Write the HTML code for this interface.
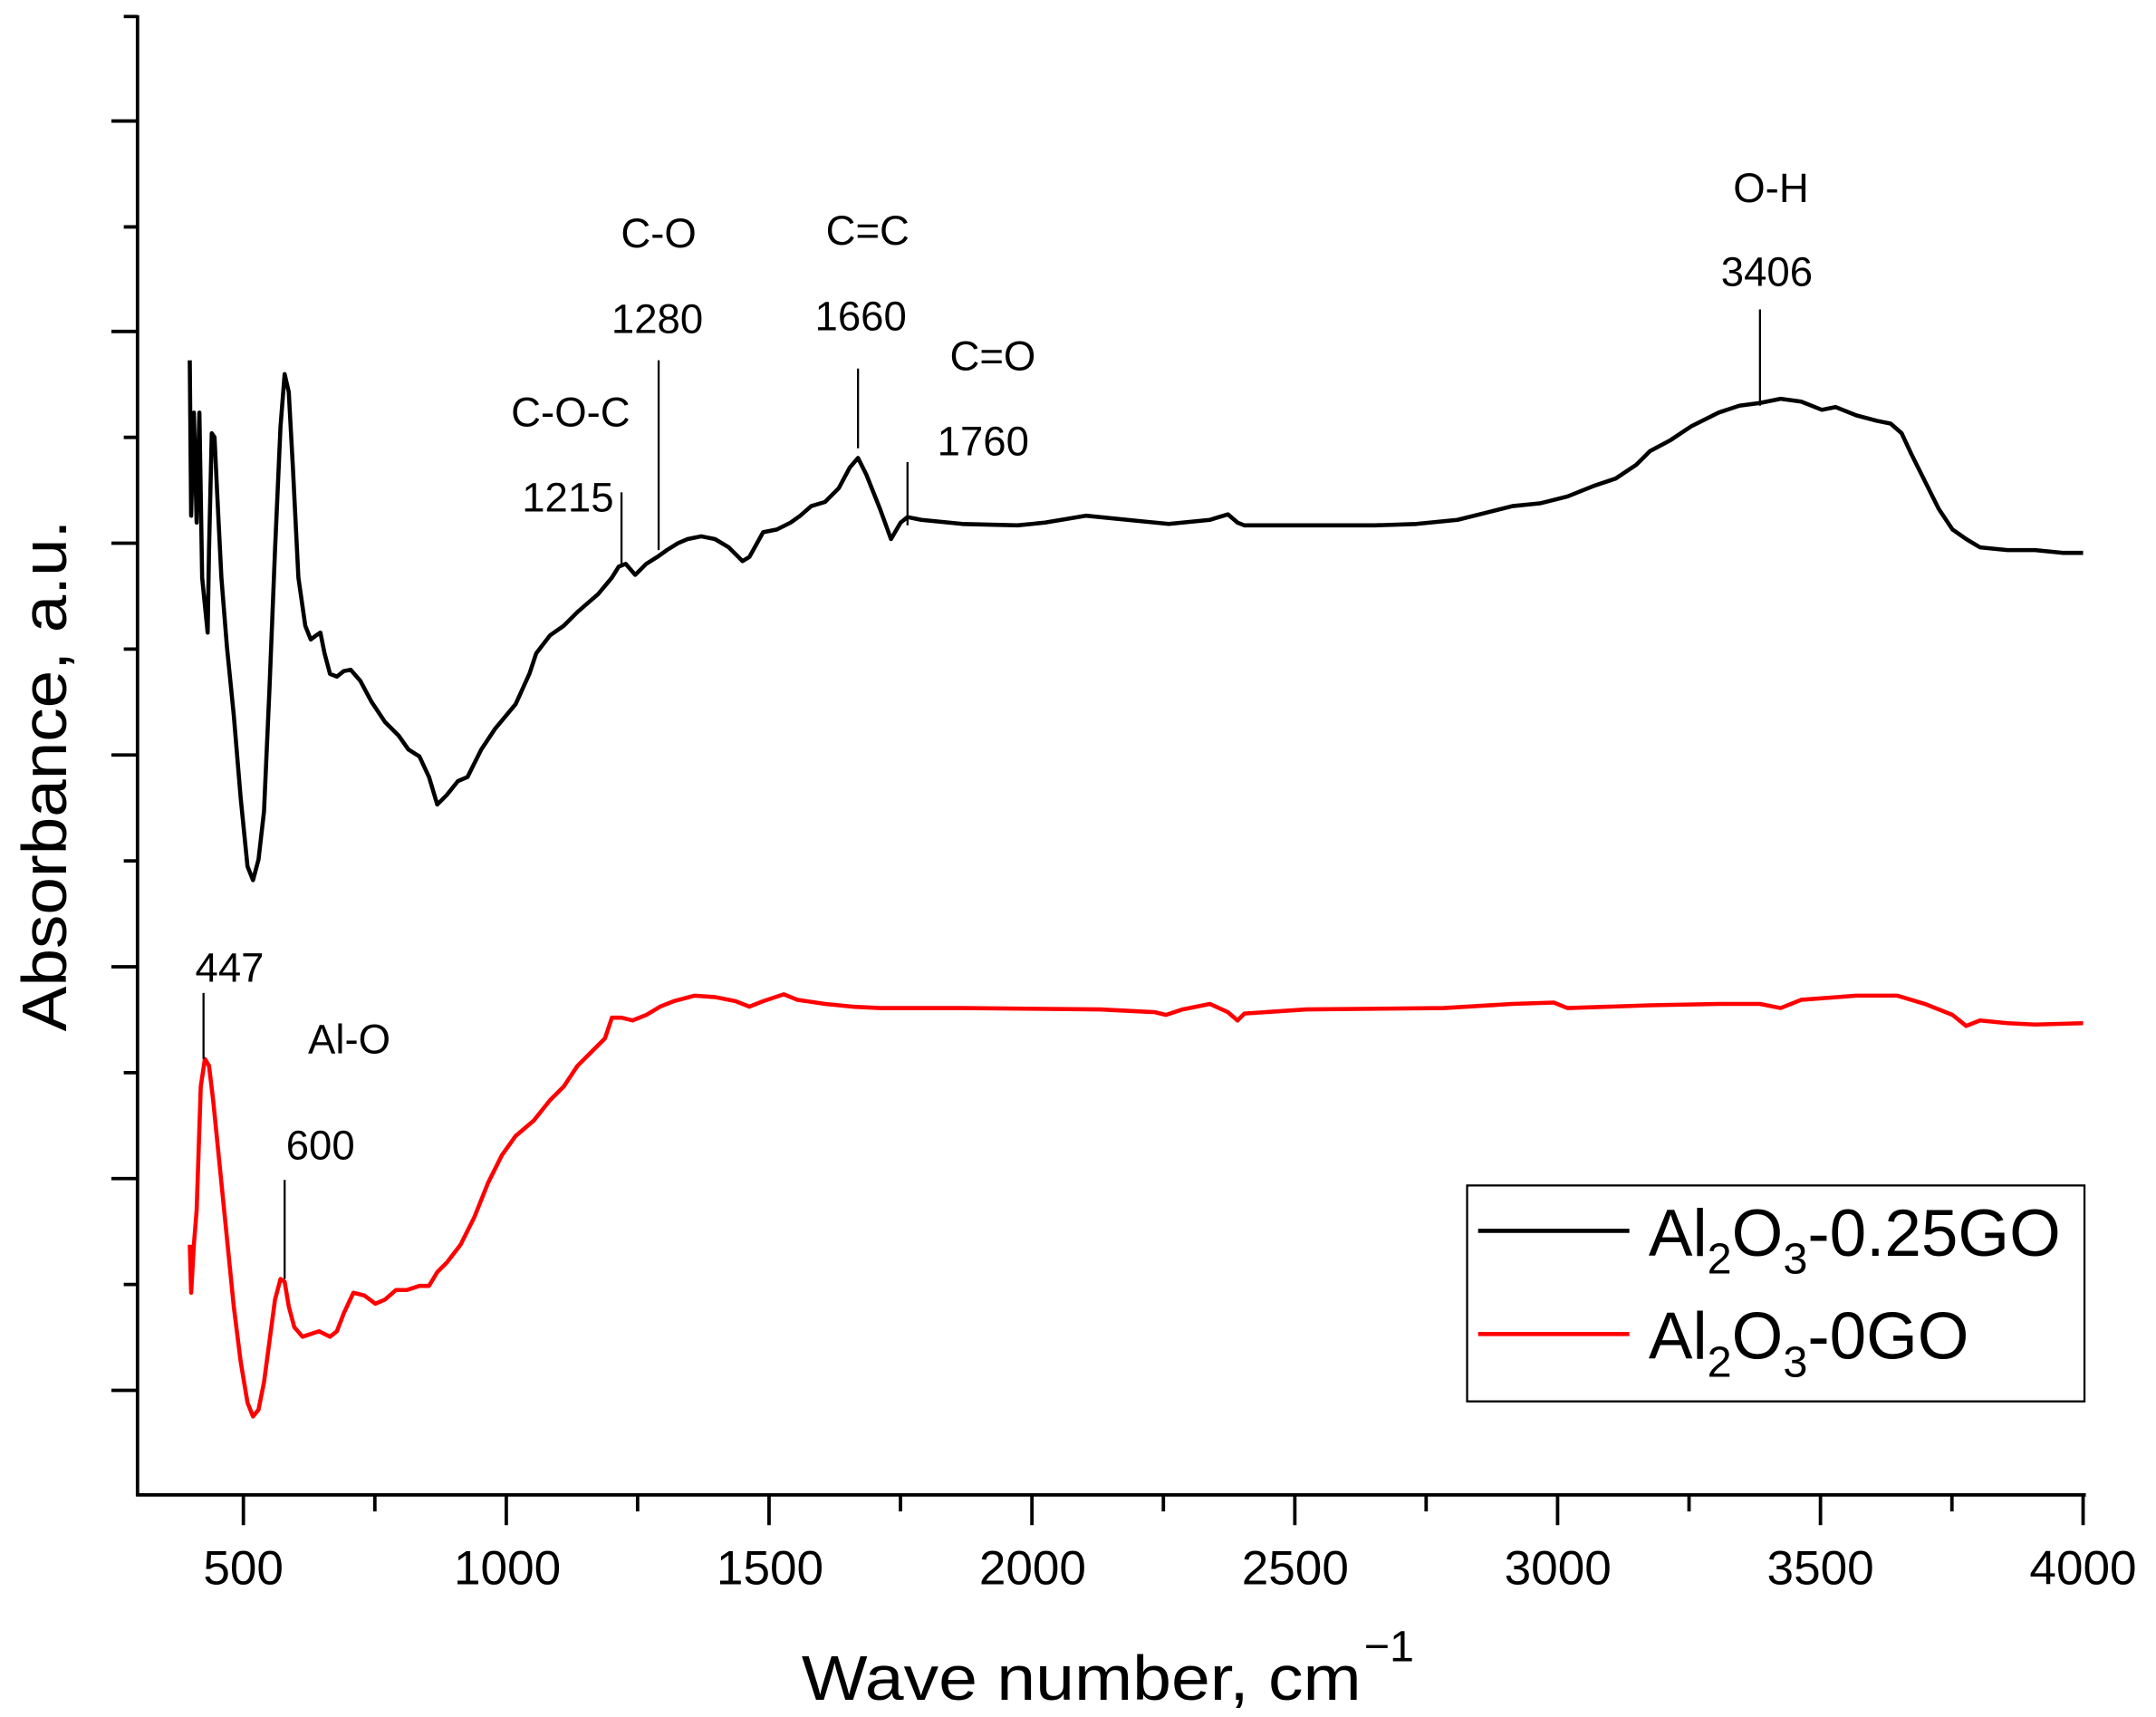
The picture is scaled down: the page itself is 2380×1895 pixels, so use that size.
<!DOCTYPE html>
<html><head><meta charset="utf-8"><style>body{margin:0;background:#fff}svg{display:block}text{font-family:"Liberation Sans",sans-serif;fill:#000}</style></head><body>
<svg width="2380" height="1895" viewBox="0 0 1568 1248.5" xmlns="http://www.w3.org/2000/svg">
<rect width="1568" height="1248.5" fill="#fff"/>
<g stroke="#000" stroke-width="2.5" fill="none">
<line x1="100" y1="11" x2="100" y2="1088"/>
<line x1="99" y1="1087" x2="1517" y2="1087"/>
<path d="M100 12h-10M100 88h-19M100 165h-10M100 241h-19M100 318h-10M100 395h-19M100 472h-10M100 549h-19M100 626h-10M100 703h-19M100 780h-10M100 857h-19M100 934h-10M100 1011h-19"/>
<path d="M177 1087v22M272.6 1087v12M368.2 1087v22M463.7 1087v12M559.3 1087v22M654.9 1087v12M750.5 1087v22M846.1 1087v12M941.7 1087v22M1037.2 1087v12M1132.8 1087v22M1228.4 1087v12M1324 1087v22M1419.6 1087v12M1515 1087v22"/>
</g>
<g font-size="35" text-anchor="middle">
<text x="177" y="1152">500</text><text x="369" y="1152">1000</text><text x="560" y="1152">1500</text><text x="751" y="1152">2000</text><text x="942" y="1152">2500</text><text x="1133" y="1152">3000</text><text x="1324" y="1152">3500</text><text x="1515" y="1152">4000</text>
</g>
<text x="583" y="1236" font-size="46" textLength="407" lengthAdjust="spacingAndGlyphs">Wave number, cm</text>
<text x="992" y="1208" font-size="32">−1</text>
<text transform="translate(48,564) rotate(-90)" font-size="46" text-anchor="middle" textLength="372" lengthAdjust="spacingAndGlyphs">Absorbance, a.u.</text>
<polyline fill="none" stroke="#000" stroke-width="3" stroke-linejoin="round" points="138,262 139,375 141,300 143,380 145,300 147,420 149,440 151,460 152,400 154,315 156,318 158,360 161,420 165,470 170,520 175,580 180,630 184,640 188,625 192,590 196,500 200,400 204,310 207,272 210,285 213,340 217,420 222,455 226,465 230,462 233,460 236,475 240,490 245,492 250,488 255,487 262,495 270,510 280,525 290,535 297,545 305,550 312,565 318,585 325,578 333,568 340,565 350,545 360,530 375,512 385,490 390,475 400,462 410,455 420,445 435,432 445,420 450,412 455,410 462,418 470,410 478,405 485,400 493,395 500,392 510,390 520,392 530,398 540,408 545,405 555,387 565,385 575,380 582,375 590,368 600,365 610,355 618,340 624,333 630,345 640,370 648,392 655,380 660,376 670,378 700,381 740,382 760,380 790,375 820,378 850,381 880,378 893,374 900,380 905,382 950,382 1000,382 1030,381 1060,378 1080,373 1100,368 1120,366 1140,361 1160,353 1175,348 1190,338 1200,328 1215,320 1230,310 1250,300 1265,295 1280,293 1295,290 1310,292 1325,298 1335,296 1350,302 1365,306 1375,308 1383,315 1390,330 1400,350 1410,370 1420,385 1430,392 1440,398 1460,400 1480,400 1500,402 1515,402"/>
<polyline fill="none" stroke="#f00" stroke-width="3" stroke-linejoin="round" points="138,905 139,940 141,905 143,880 146,790 149,770 152,775 155,800 160,850 165,900 170,950 175,990 180,1020 184,1030 188,1025 192,1005 196,975 200,945 204,930 207,932 210,950 214,965 220,972 226,970 232,968 240,972 245,968 250,955 257,940 265,942 273,948 280,945 288,938 296,938 305,935 312,935 318,925 325,918 335,905 345,885 355,860 365,840 375,826 388,815 400,800 410,790 420,775 430,765 440,755 445,740 452,740 460,742 470,738 480,732 490,728 505,724 520,725 535,728 545,732 555,728 570,723 580,727 600,730 620,732 640,733 700,733 800,734 840,736 848,738 860,734 880,730 893,736 900,742 905,737 950,734 1050,733 1100,730 1130,729 1140,733 1200,731 1250,730 1280,730 1295,733 1310,727 1350,724 1380,724 1400,730 1420,738 1430,746 1440,742 1460,744 1480,745 1515,744"/>
<g stroke="#000" stroke-width="1.5">
<line x1="479" y1="262" x2="479" y2="400"/><line x1="624" y1="268" x2="624" y2="326"/><line x1="452" y1="358" x2="452" y2="412"/><line x1="660" y1="336" x2="660" y2="382"/><line x1="1280" y1="225" x2="1280" y2="295"/><line x1="148" y1="722" x2="148" y2="770"/><line x1="207" y1="858" x2="207" y2="930"/>
</g>
<g font-size="30" text-anchor="middle">
<text x="479" y="180">C-O</text><text x="478" y="242">1280</text>
<text x="631" y="178">C=C</text><text x="626" y="240">1660</text>
<text x="415" y="310">C-O-C</text><text x="413" y="372">1215</text>
<text x="722" y="269">C=O</text><text x="715" y="331">1760</text>
<text x="1288" y="147">O-H</text><text x="1285" y="208">3406</text>
<text x="167" y="714">447</text>
<text x="254" y="766">Al-O</text><text x="233" y="843">600</text>
</g>
<rect x="1067" y="862" width="449" height="157" fill="#fff" stroke="#000" stroke-width="1.5"/>
<line x1="1075" y1="895" x2="1185" y2="895" stroke="#000" stroke-width="3"/>
<line x1="1075" y1="970" x2="1185" y2="970" stroke="#f00" stroke-width="3"/>
<text x="1199" y="913" font-size="48">Al<tspan font-size="32" dy="13">2</tspan><tspan dy="-13">O</tspan><tspan font-size="32" dy="13">3</tspan><tspan dy="-13">-0.25GO</tspan></text>
<text x="1199" y="988" font-size="48">Al<tspan font-size="32" dy="13">2</tspan><tspan dy="-13">O</tspan><tspan font-size="32" dy="13">3</tspan><tspan dy="-13">-0GO</tspan></text>
</svg>
</body></html>
